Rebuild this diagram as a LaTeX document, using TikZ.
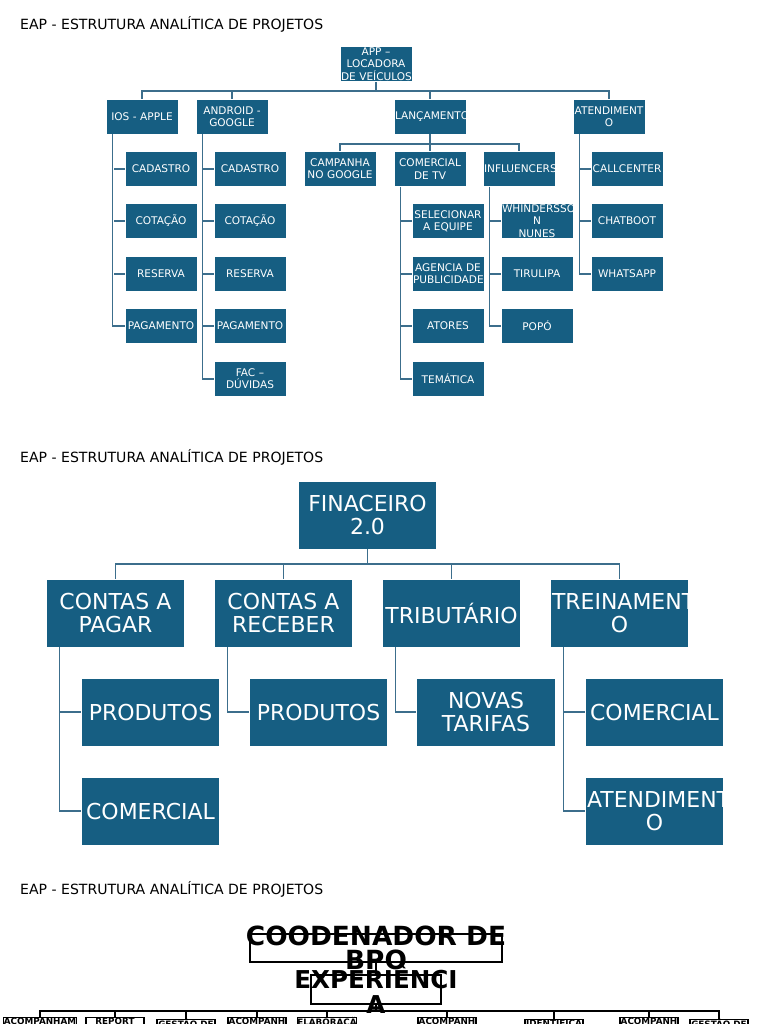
\documentclass[tikz,border=0pt]{standalone}
\usepackage{fontspec}
\setmainfont{DejaVu Sans}
\usetikzlibrary{calc}
\definecolor{eapblue}{RGB}{22,94,130}
\definecolor{eapline}{RGB}{60,110,140}

\begin{document}
\begin{tikzpicture}[x=0.02cm, y=-0.02cm,
    sbox/.style={fill=eapblue, draw=white, text=white, text width=1.4cm, minimum height=0.7cm, inner sep=0.5pt, align=center, font=\fontsize{6}{7}\selectfont},
    bbox/.style={fill=eapblue, draw=white, text=white, text width=2.7cm, minimum height=1.36cm, inner sep=1pt, align=center, font=\fontsize{12.5}{13}\selectfont},
    wbox/.style={fill=white, draw=black, thick, inner sep=0pt, align=center, font=\bfseries},
    tbox/.style={wbox, semithick, minimum width=1.16cm, minimum height=0.6cm, anchor=north, font=\bfseries\fontsize{5}{5.5}\selectfont, text depth=0.45cm},
    link/.style={draw=eapline, semithick},
    head/.style={anchor=west, font=\fontsize{8}{10}\selectfont}]
    \useasboundingbox (0,0) rectangle (768,1024);
    \clip (0,0) rectangle (768,1024);

    % first tree
    \node[head] (h1) at (14,24) {EAP - ESTRUTURA ANALÍTICA DE PROJETOS};
    \node[sbox] (app) at (376,64) {APP –\\LOCADORA\\\mbox{DE VEÍCULOS}};
    \node[sbox] (ios) at (142,116.5) {IOS - APPLE};
    \node[sbox] (android) at (232,116.5) {ANDROID -\\GOOGLE};
    \node[sbox] (lanc) at (430,116.5) {LANÇAMENTO};
    \node[sbox] (atend) at (609,116.5) {ATENDIMENT\\O};

    \node[sbox] (ios1) at (161,169) {CADASTRO};
    \node[sbox] (ios2) at (161,221) {COTAÇÃO};
    \node[sbox] (ios3) at (161,274) {RESERVA};
    \node[sbox] (ios4) at (161,326) {PAGAMENTO};

    \node[sbox] (and1) at (250,169) {CADASTRO};
    \node[sbox] (and2) at (250,221) {COTAÇÃO};
    \node[sbox] (and3) at (250,274) {RESERVA};
    \node[sbox] (and4) at (250,326) {PAGAMENTO};
    \node[sbox] (and5) at (250,379) {FAC –\\DÚVIDAS};

    \node[sbox] (camp) at (340,169) {CAMPANHA\\NO GOOGLE};
    \node[sbox] (tv) at (430,169) {COMERCIAL\\DE TV};
    \node[sbox] (infl) at (519,169) {INFLUENCERS};

    \node[sbox] (tv1) at (448,221) {SELECIONAR\\A EQUIPE};
    \node[sbox] (tv2) at (448,274) {AGENCIA DE\\PUBLICIDADE};
    \node[sbox] (tv3) at (448,326) {ATORES};
    \node[sbox] (tv4) at (448,379) {TEMÁTICA};

    \node[sbox] (inf1) at (537,221) {WHINDERSSO\\N\\NUNES};
    \node[sbox] (inf2) at (537,274) {TIRULIPA};
    \node[sbox] (inf3) at (537,326) {POPÓ};

    \node[sbox] (at1) at (627,169) {CALLCENTER};
    \node[sbox] (at2) at (627,221) {CHATBOOT};
    \node[sbox] (at3) at (627,274) {WHATSAPP};

    \coordinate (bar1) at (0,91);
    \draw[link] (app.south) -- (app.south |- bar1);
    \draw[link] (ios.north) -- (ios.north |- bar1) -- (atend.north |- bar1) -- (atend.north);
    \draw[link] (android.north) -- (android.north |- bar1);
    \draw[link] (lanc.north) -- (lanc.north |- bar1);
    \coordinate (bar2) at (0,144);
    \draw[link] (camp.north) -- (camp.north |- bar2) -- (infl.north |- bar2) -- (infl.north);
    \draw[link] (lanc.south) -- (tv.north);

    \draw[link] ($(ios.south west)+(7,0)$) |- (ios4.west);
    \draw[link] ($(android.south west)+(7,0)$) |- (and5.west);
    \draw[link] ($(tv.south west)+(7,0)$) |- (tv4.west);
    \draw[link] ($(infl.south west)+(7,0)$) |- (inf3.west);
    \draw[link] ($(atend.south west)+(7,0)$) |- (at3.west);
    \foreach \n in {ios1,ios2,ios3,and1,and2,and3,and4,tv1,tv2,tv3,inf1,inf2,at1,at2}
        \draw[link] (\n.west) -- ++(-11,0);

    % second tree
    \node[head] (h2) at (14,457) {EAP - ESTRUTURA ANALÍTICA DE PROJETOS};
    \node[bbox] (fin) at (367.5,515) {FINACEIRO\\2.0};
    \node[bbox] (pagar) at (115.5,613) {CONTAS A\\PAGAR};
    \node[bbox] (receber) at (283.5,613) {CONTAS A\\RECEBER};
    \node[bbox] (trib) at (451.5,613) {TRIBUTÁRIO};
    \node[bbox] (trein) at (619.5,613) {TREINAMENT\\O};

    \node[bbox] (pag1) at (150.5,712) {PRODUTOS};
    \node[bbox] (pag2) at (150.5,811) {COMERCIAL};
    \node[bbox] (rec1) at (318.5,712) {PRODUTOS};
    \node[bbox] (trib1) at (486,712) {NOVAS\\TARIFAS};
    \node[bbox] (tre1) at (654.5,712) {COMERCIAL};
    \node[bbox] (tre2) at (654.5,811) {ATENDIMENT\\O};

    \coordinate (bar3) at (0,564);
    \draw[link] (fin.south) -- (fin.south |- bar3);
    \draw[link] (pagar.north) -- (pagar.north |- bar3) -- (trein.north |- bar3) -- (trein.north);
    \draw[link] (receber.north) -- (receber.north |- bar3);
    \draw[link] (trib.north) -- (trib.north |- bar3);

    \draw[link] ($(pagar.south west)+(14,0)$) |- (pag2.west);
    \draw[link] ($(receber.south west)+(14,0)$) |- (rec1.west);
    \draw[link] ($(trib.south west)+(14,0)$) |- (trib1.west);
    \draw[link] ($(trein.south west)+(14,0)$) |- (tre2.west);
    \foreach \n in {pag1,tre1}
        \draw[link] (\n.west) -- ++(-21,0);

    % third tree
    \node[head] (h3) at (14,889) {EAP - ESTRUTURA ANALÍTICA DE PROJETOS};
    \node[wbox, minimum width=5.04cm, minimum height=0.56cm] (coord) at (376,948) {};
    \node[font=\bfseries\fontsize{15}{14}\selectfont, align=center] at (376,948) {COODENADOR DE\\BPO};
    \node[wbox, minimum width=2.6cm, minimum height=0.58cm] (exp) at (376,989.5) {};
    \node[font=\bfseries\fontsize{14}{14}\selectfont, align=center] at (376,989.5) {EXPERIÊNCI\\A};
    \draw[thick] (coord.south) -- (exp.north);

    \node[tbox, minimum width=1.4cm] (t1) at (40,1017) {ACOMPANHAM};
    \node[tbox] (t2) at (115,1017) {REPORT};
    \node[tbox] (t3) at (186,1019) {GESTÃO DE};
    \node[tbox] (t4) at (257,1017) {ACOMPANH};
    \node[tbox, text depth=0.3cm] (t5) at (327,1017) {ELABORAÇÃ\\O DE};
    \node[tbox] (t6) at (447,1017) {ACOMPANH};
    \node[tbox] (t7) at (554,1019) {IDENTIFICA};
    \node[tbox] (t8) at (649,1017) {ACOMPANH};
    \node[tbox] (t9) at (719,1019) {GESTÃO DE};

    \coordinate (bar4) at (0,1011);
    \draw[thick] (exp.south) -- (exp.south |- bar4);
    \draw[thick] (t1.north) -- (t1.north |- bar4) -- (t9.north |- bar4) -- (t9.north);
    \foreach \n in {t2,t3,t4,t5,t6,t7,t8}
        \draw[thick] (\n.north) -- (\n.north |- bar4);
\end{tikzpicture}
\end{document}
